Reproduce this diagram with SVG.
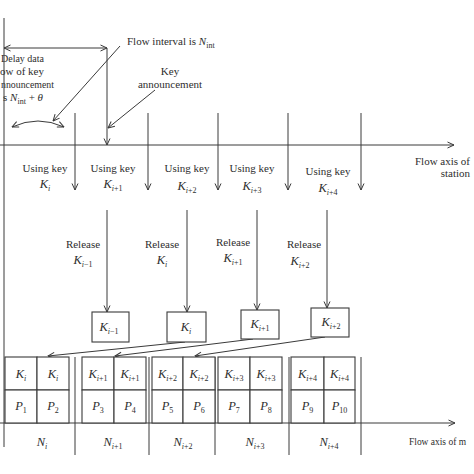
<svg xmlns="http://www.w3.org/2000/svg" width="474" height="474" viewBox="0 0 474 474">
<style>
  .ln { stroke:#3a3a3a; stroke-width:1; fill:none; }
  .bx { stroke:#3a3a3a; stroke-width:1.1; fill:#fff; }
  .t { font-family:"Liberation Serif","DejaVu Serif",serif; font-size:11px; fill:#2e2e2e; }
  .c { text-anchor:middle; }
  .e { text-anchor:end; }
  .k { font-family:"Liberation Serif","DejaVu Serif",serif; font-size:12.5px; font-style:italic; fill:#2e2e2e; text-anchor:middle; }
  .s { font-size:8px; }
  .r { font-style:normal; }
</style>
<defs>
  <marker id="ah" viewBox="0 0 8 8" refX="7.5" refY="4" markerWidth="8" markerHeight="8" orient="auto-start-reverse" markerUnits="userSpaceOnUse">
    <path d="M1,1 L7.5,4 L1,7" fill="none" stroke="#3a3a3a" stroke-width="1"/>
  </marker>
</defs>
<rect width="474" height="474" fill="#fff"/>

<g id="axes">
  <line class="ln" x1="4" y1="18" x2="4" y2="447"/>
  <line class="ln" x1="0" y1="145" x2="454" y2="145" marker-end="url(#ah)"/>
  <line class="ln" x1="0" y1="423" x2="455" y2="423" marker-end="url(#ah)"/>
  <line class="ln" x1="75" y1="357" x2="75" y2="455"/>
  <line class="ln" x1="149" y1="357" x2="149" y2="455"/>
  <line class="ln" x1="215" y1="357" x2="215" y2="455"/>
  <line class="ln" x1="289" y1="357" x2="289" y2="455"/>
  <line class="ln" x1="361" y1="357" x2="361" y2="455"/>
</g>

<g id="connectors">
  <line class="ln" x1="4" y1="48" x2="107" y2="48" marker-start="url(#ah)" marker-end="url(#ah)"/>
  <line class="ln" x1="107" y1="48" x2="107" y2="145" marker-end="url(#ah)"/>
  <line class="ln" x1="120" y1="46" x2="53" y2="121" marker-end="url(#ah)"/>
  <line class="ln" x1="155" y1="90" x2="108" y2="128" marker-end="url(#ah)"/>
  <path class="ln" d="M12,127 Q38,115 64,127" marker-start="url(#ah)" marker-end="url(#ah)"/>
  <line class="ln" x1="75" y1="113" x2="75" y2="190" marker-end="url(#ah)"/>
  <line class="ln" x1="148" y1="113" x2="148" y2="190" marker-end="url(#ah)"/>
  <line class="ln" x1="218" y1="113" x2="218" y2="190" marker-end="url(#ah)"/>
  <line class="ln" x1="288" y1="113" x2="288" y2="190" marker-end="url(#ah)"/>
  <line class="ln" x1="361" y1="113" x2="361" y2="190" marker-end="url(#ah)"/>
  <line class="ln" x1="107" y1="210" x2="107" y2="312" marker-end="url(#ah)"/>
  <line class="ln" x1="187" y1="210" x2="187" y2="312" marker-end="url(#ah)"/>
  <line class="ln" x1="257" y1="210" x2="257" y2="310" marker-end="url(#ah)"/>
  <line class="ln" x1="327" y1="210" x2="327" y2="308" marker-end="url(#ah)"/>
  <line class="ln" x1="185" y1="342" x2="48" y2="356" marker-end="url(#ah)"/>
  <line class="ln" x1="253" y1="339" x2="115" y2="356" marker-end="url(#ah)"/>
  <line class="ln" x1="325" y1="337" x2="195" y2="356" marker-end="url(#ah)"/>
</g>

<g id="annotations">
  <text class="t" x="127" y="45" font-size="12">Flow interval is <tspan font-style="italic">N</tspan><tspan class="s" dy="3">int</tspan></text>
  <text class="t c" x="170" y="75">Key</text>
  <text class="t c" x="170" y="88">announcement</text>
  <text class="t" x="1" y="62" textLength="43" lengthAdjust="spacingAndGlyphs">Delay data</text>
  <text class="t e" x="44" y="75">ow of key</text>
  <text class="t" x="1" y="88" textLength="53" lengthAdjust="spacingAndGlyphs">nnouncement</text>
  <text class="t e" x="43" y="101">s <tspan font-style="italic">N</tspan><tspan class="s" dy="3">int</tspan><tspan dy="-3"> + </tspan><tspan font-style="italic">θ</tspan></text>
  <text class="t e" x="470" y="165">Flow axis of</text>
  <text class="t e" x="470" y="177">station</text>
  <text class="t" x="409" y="445" textLength="57" lengthAdjust="spacingAndGlyphs">Flow axis of m</text>
</g>

<g id="using-labels">
  <text class="t c" x="45" y="172">Using key</text>
  <text class="k" x="45" y="188">K<tspan class="s" dy="3">i</tspan></text>
  <text class="t c" x="113" y="172">Using key</text>
  <text class="k" x="113" y="188">K<tspan class="s" dy="3">i<tspan class="r">+1</tspan></tspan></text>
  <text class="t c" x="187" y="172">Using key</text>
  <text class="k" x="187" y="190">K<tspan class="s" dy="3">i<tspan class="r">+2</tspan></tspan></text>
  <text class="t c" x="252" y="172">Using key</text>
  <text class="k" x="252" y="190">K<tspan class="s" dy="3">i<tspan class="r">+3</tspan></tspan></text>
  <text class="t c" x="328" y="175">Using key</text>
  <text class="k" x="328" y="192">K<tspan class="s" dy="3">i<tspan class="r">+4</tspan></tspan></text>
</g>

<g id="release-labels">
  <text class="t c" x="83" y="248">Release</text>
  <text class="k" x="83" y="264">K<tspan class="s" dy="3">i<tspan class="r">−1</tspan></tspan></text>
  <text class="t c" x="162" y="248">Release</text>
  <text class="k" x="162" y="264">K<tspan class="s" dy="3">i</tspan></text>
  <text class="t c" x="233" y="246">Release</text>
  <text class="k" x="233" y="262">K<tspan class="s" dy="3">i<tspan class="r">+1</tspan></tspan></text>
  <text class="t c" x="304" y="248">Release</text>
  <text class="k" x="300" y="265">K<tspan class="s" dy="3">i<tspan class="r">+2</tspan></tspan></text>
</g>

<g id="box-ki-1">
  <rect class="bx" x="92" y="312" width="37" height="30"/>
  <text class="k" x="109" y="331">K<tspan class="s" dy="3">i<tspan class="r">−1</tspan></tspan></text>
</g>
<g id="box-ki">
  <rect class="bx" x="167" y="312" width="39" height="30"/>
  <text class="k" x="186" y="331">K<tspan class="s" dy="3">i</tspan></text>
</g>
<g id="box-ki1">
  <rect class="bx" x="241" y="310" width="38" height="29"/>
  <text class="k" x="260" y="328">K<tspan class="s" dy="3">i<tspan class="r">+1</tspan></tspan></text>
</g>
<g id="box-ki2">
  <rect class="bx" x="311" y="308" width="38" height="29"/>
  <text class="k" x="331" y="326">K<tspan class="s" dy="3">i<tspan class="r">+2</tspan></tspan></text>
</g>

<g id="node-ni">
  <rect class="bx" x="5" y="357" width="32" height="33"/>
  <rect class="bx" x="37" y="357" width="32" height="33"/>
  <rect class="bx" x="5" y="390" width="32" height="33"/>
  <rect class="bx" x="37" y="390" width="32" height="33"/>
  <text class="k" x="21" y="378">K<tspan class="s" dy="3">i</tspan></text>
  <text class="k" x="53" y="378">K<tspan class="s" dy="3">i</tspan></text>
  <text class="k" x="21" y="410">P<tspan class="s r" dy="3">1</tspan></text>
  <text class="k" x="53" y="410">P<tspan class="s r" dy="3">2</tspan></text>
  <text class="k" x="42" y="446">N<tspan class="s" dy="3">i</tspan></text>
</g>
<g id="node-ni1">
  <rect class="bx" x="82" y="357" width="32" height="33"/>
  <rect class="bx" x="114" y="357" width="32" height="33"/>
  <rect class="bx" x="82" y="390" width="32" height="33"/>
  <rect class="bx" x="114" y="390" width="32" height="33"/>
  <text class="k" x="98" y="378">K<tspan class="s" dy="3">i<tspan class="r">+1</tspan></tspan></text>
  <text class="k" x="130" y="378">K<tspan class="s" dy="3">i<tspan class="r">+1</tspan></tspan></text>
  <text class="k" x="98" y="410">P<tspan class="s r" dy="3">3</tspan></text>
  <text class="k" x="130" y="410">P<tspan class="s r" dy="3">4</tspan></text>
  <text class="k" x="113" y="446">N<tspan class="s" dy="3">i<tspan class="r">+1</tspan></tspan></text>
</g>
<g id="node-ni2">
  <rect class="bx" x="152" y="357" width="31" height="33"/>
  <rect class="bx" x="183" y="357" width="32" height="33"/>
  <rect class="bx" x="152" y="390" width="31" height="33"/>
  <rect class="bx" x="183" y="390" width="32" height="33"/>
  <text class="k" x="167.5" y="378">K<tspan class="s" dy="3">i<tspan class="r">+2</tspan></tspan></text>
  <text class="k" x="199" y="378">K<tspan class="s" dy="3">i<tspan class="r">+2</tspan></tspan></text>
  <text class="k" x="167.5" y="410">P<tspan class="s r" dy="3">5</tspan></text>
  <text class="k" x="199" y="410">P<tspan class="s r" dy="3">6</tspan></text>
  <text class="k" x="183" y="446">N<tspan class="s" dy="3">i<tspan class="r">+2</tspan></tspan></text>
</g>
<g id="node-ni3">
  <rect class="bx" x="218" y="357" width="32" height="33"/>
  <rect class="bx" x="250" y="357" width="32" height="33"/>
  <rect class="bx" x="218" y="390" width="32" height="33"/>
  <rect class="bx" x="250" y="390" width="32" height="33"/>
  <text class="k" x="234" y="378">K<tspan class="s" dy="3">i<tspan class="r">+3</tspan></tspan></text>
  <text class="k" x="266" y="378">K<tspan class="s" dy="3">i<tspan class="r">+3</tspan></tspan></text>
  <text class="k" x="234" y="410">P<tspan class="s r" dy="3">7</tspan></text>
  <text class="k" x="266" y="410">P<tspan class="s r" dy="3">8</tspan></text>
  <text class="k" x="255" y="446">N<tspan class="s" dy="3">i<tspan class="r">+3</tspan></tspan></text>
</g>
<g id="node-ni4">
  <rect class="bx" x="291" y="357" width="33" height="33"/>
  <rect class="bx" x="324" y="357" width="31" height="33"/>
  <rect class="bx" x="291" y="390" width="33" height="33"/>
  <rect class="bx" x="324" y="390" width="31" height="33"/>
  <text class="k" x="307.5" y="378">K<tspan class="s" dy="3">i<tspan class="r">+4</tspan></tspan></text>
  <text class="k" x="339.5" y="378">K<tspan class="s" dy="3">i<tspan class="r">+4</tspan></tspan></text>
  <text class="k" x="307.5" y="410">P<tspan class="s r" dy="3">9</tspan></text>
  <text class="k" x="339.5" y="410">P<tspan class="s r" dy="3">10</tspan></text>
  <text class="k" x="329" y="446">N<tspan class="s" dy="3">i<tspan class="r">+4</tspan></tspan></text>
</g>
</svg>
